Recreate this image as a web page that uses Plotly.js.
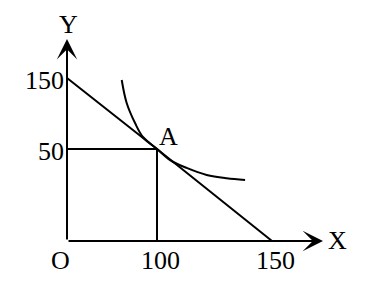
<!DOCTYPE html>
<html>
<head>
<meta charset="utf-8">
<script src="https://cdn.plot.ly/plotly-3.0.1.min.js"></script>
<style>html,body{margin:0;padding:0;background:#fff;}#chart{width:374px;height:293px;}</style>
</head>
<body>
<div id="chart"></div>
<script>
// ---- data (economic units, as labelled in the diagram) ----
const xTickValues = [0, 100, 150];
const xTickLabels = ['O', '100', '150'];
const yTickValues = [50, 150];
const yTickLabels = ['50', '150'];
const budgetX = [0, 100, 150];
const budgetY = [150, 50, 0];
const pointAX = [100];
const pointAY = [50];
const pointALabel = ['A'];
const curveX = [60.8, 66.3, 75.6, 84.4, 100, 105.7, 112.9, 121.6, 130.3, 138.3];
const curveY = [147.2, 114.8, 86.6, 66.9, 50, 44.0, 39.7, 35.9, 34.1, 33.2];
const axisNames = ['X', 'Y'];

// ---- the diagram is not drawn to scale: piecewise schematic scale ----
const xKnots = [[0, 0], [100, 90], [150, 205], [170, 256]];
const yKnots = [[0, 0], [50, 92], [150, 163], [170, 202]];
function piece(knots, v) {
  for (let i = 1; i < knots.length; i++) {
    const [a0, b0] = knots[i - 1], [a1, b1] = knots[i];
    if (v <= a1 || i === knots.length - 1) return b0 + (v - a0) * (b1 - b0) / (a1 - a0);
  }
}
const sx = v => piece(xKnots, v);
const sy = v => piece(yKnots, v);

const FONT = {family: '"Liberation Serif", serif', size: 26, color: '#000'};
const LINE = {color: '#000', width: 2};

const traces = [
  {x: budgetX.map(sx), y: budgetY.map(sy), mode: 'lines', line: LINE, hoverinfo: 'skip'},
  {x: [0, sx(pointAX[0]), sx(pointAX[0])], y: [sy(pointAY[0]), sy(pointAY[0]), 0],
   mode: 'lines', line: LINE, hoverinfo: 'skip'},
  {x: curveX.map(sx), y: curveY.map(sy), mode: 'lines', line: {color: '#000', width: 2, shape: 'spline', smoothing: 1}, hoverinfo: 'skip'}
];

const ann = [];
// axes with arrow heads
ann.push({x: sx(170), y: 0, ax: 0, ay: 0, xref: 'x', yref: 'y', axref: 'x', ayref: 'y',
  showarrow: true, arrowhead: 3, arrowsize: 1.7, arrowwidth: 2, arrowcolor: '#000', text: ''});
ann.push({x: 0, y: sy(170), ax: 0, ay: 0, xref: 'x', yref: 'y', axref: 'x', ayref: 'y',
  showarrow: true, arrowhead: 3, arrowsize: 1.7, arrowwidth: 2, arrowcolor: '#000', text: ''});
// axis names
ann.push({x: sx(170), y: 0, xref: 'x', yref: 'y', text: axisNames[0], showarrow: false,
  xanchor: 'left', yanchor: 'middle', xshift: 3, yshift: 1, font: FONT});
ann.push({x: 0, y: sy(170), xref: 'x', yref: 'y', text: axisNames[1], showarrow: false,
  xanchor: 'center', yanchor: 'bottom', xshift: 1, yshift: -2, font: FONT});
// tick labels
xTickValues.forEach((v, i) => ann.push({x: sx(v), y: 0, xref: 'x', yref: 'y', text: xTickLabels[i],
  showarrow: false, xanchor: i === 0 ? 'right' : 'center', yanchor: 'top', xshift: i === 0 ? 5 : 3, yshift: -3, font: FONT}));
yTickValues.forEach((v, i) => ann.push({x: 0, y: sy(v), xref: 'x', yref: 'y', text: yTickLabels[i],
  showarrow: false, xanchor: 'right', yanchor: 'middle', xshift: -1, yshift: -2, font: FONT}));
// point label
ann.push({x: sx(pointAX[0]), y: sy(pointAY[0]), xref: 'x', yref: 'y', text: pointALabel[0],
  showarrow: false, xanchor: 'left', yanchor: 'bottom', xshift: 0, yshift: -4, font: FONT});

const layout = {
  width: 374, height: 293,
  margin: {l: 55, r: 49, t: 33, b: 40},
  paper_bgcolor: '#fff', plot_bgcolor: '#fff',
  showlegend: false,
  xaxis: {range: [-12, 258], visible: false, fixedrange: true},
  yaxis: {range: [-12, 208], visible: false, fixedrange: true},
  annotations: ann
};
Plotly.newPlot('chart', traces, layout, {staticPlot: true, displayModeBar: false});
</script>
</body>
</html>
